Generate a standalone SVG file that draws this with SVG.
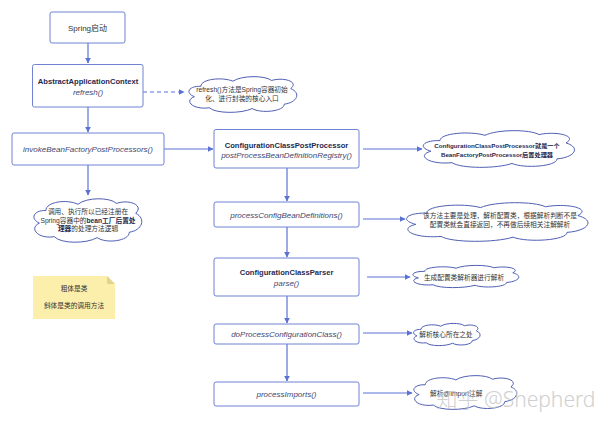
<svg xmlns="http://www.w3.org/2000/svg" xmlns:xlink="http://www.w3.org/1999/xlink" width="600" height="425" viewBox="0 0 600 425">
<style>
text{font-family:"Liberation Sans","Noto Sans CJK SC",sans-serif;text-anchor:middle;fill:#333}
.box{fill:#fff;stroke:#6f82d4;stroke-width:1}
.b{font-weight:bold;font-size:7.6px;fill:#1f2a4f}
.i{font-style:italic;font-size:8px;fill:#3f4670}
.n{font-size:8px}
.c{font-size:6.7px}
.cb{font-size:6.2px;font-weight:bold;fill:#1f2a4f}
.cl{fill:#fff;stroke:#4f5fb4;stroke-width:1}
.ln{stroke:#5a72d4;stroke-width:1.2;fill:none}
.ds{stroke-dasharray:4 3}
</style>
<defs>
<marker id="ah" viewBox="0 0 10 10" refX="9" refY="5" markerWidth="6" markerHeight="6" orient="auto" markerUnits="userSpaceOnUse">
<path d="M0,0 L10,5 L0,10 Z" fill="#5a72d4"/>
</marker>
<path id="cloud" d="M12,28 C12,8 32,2 42,14 C50,-2 72,-2 78,12 C90,2 104,16 96,34 C106,46 102,72 90,76 C90,96 68,102 60,88 C50,102 26,102 20,86 C4,92 -4,66 6,56 C-4,44 2,26 12,28 Z" vector-effect="non-scaling-stroke"/>
</defs>
<rect width="600" height="425" fill="#fff"/>

<g id="connectors">
<path class="ln" d="M88,43 V63" marker-end="url(#ah)"/>
<path class="ln ds" d="M108,92 H184" marker-end="url(#ah)"/>
<path class="ln" d="M88,107 V132" marker-end="url(#ah)"/>
<path class="ln" d="M164,149 H213" marker-end="url(#ah)"/>
<path class="ln" d="M88,165 V195" marker-end="url(#ah)"/>
<path class="ln" d="M363,149 H422" marker-end="url(#ah)"/>
<path class="ln" d="M287,168 V201" marker-end="url(#ah)"/>
<path class="ln" d="M363,219 H405" marker-end="url(#ah)"/>
<path class="ln" d="M287,227 V257" marker-end="url(#ah)"/>
<path class="ln" d="M367,277 H410" marker-end="url(#ah)"/>
<path class="ln" d="M287,296 V323" marker-end="url(#ah)"/>
<path class="ln" d="M363,333 H412" marker-end="url(#ah)"/>
<path class="ln" d="M287,344 V381" marker-end="url(#ah)"/>
<path class="ln" d="M363,393 H412" marker-end="url(#ah)"/>
</g>

<g id="spring-start">
<rect class="box" x="50" y="12" width="75" height="31" rx="2"/>
<text class="n" x="87.5" y="30.5">Spring启动</text>
</g>
<g id="abstract-app-context">
<rect class="box" x="32.5" y="64.5" width="110.5" height="42.5" rx="2"/>
<text class="b" x="88" y="84">AbstractApplicationContext</text>
<text class="i" x="88" y="95">refresh()</text>
</g>
<g id="cloud-refresh">
<use href="#cloud" class="cl" transform="translate(188,76) scale(1.07,0.37)"/>
<text class="c" x="242" y="92" font-size="6.2">refresh()方法是Spring容器初始</text>
<text class="c" x="242" y="101" font-size="6.2">化、进行封装的核心入口</text>
</g>
<g id="invoke-bfpp">
<rect class="box" x="12" y="133" width="152" height="32" rx="2"/>
<text class="i" x="88" y="152">invokeBeanFactoryPostProcessors()</text>
</g>
<g id="cloud-invoke">
<use href="#cloud" class="cl" transform="translate(33,198) scale(1.07,0.45)"/>
<text class="c" x="88" y="214">调用、执行所以已经注册在</text>
<text class="c" x="88" y="222.5">Spring容器中的<tspan font-weight="bold" fill="#1f2a4f">bean工厂后置处</tspan></text>
<text class="c" x="88" y="231"><tspan font-weight="bold" fill="#1f2a4f">理器</tspan>的处理方法逻辑</text>
</g>
<g id="note">
<path d="M33,276 H107 L115,284 V319 H33 Z" fill="#fcefab"/>
<path d="M107,276 L115,284 H107 Z" fill="#e4d38c"/>
<text class="c" x="74" y="291" font-size="7">粗体是类</text>
<text class="c" x="74" y="308" font-size="7">斜体是类的调用方法</text>
</g>
<g id="ccpp">
<rect class="box" x="214" y="129.5" width="145" height="38.5" rx="2"/>
<text class="b" x="286.5" y="148">ConfigurationClassPostProcessor</text>
<text class="i" x="286.5" y="157.5">postProcessBeanDefinitionRegistry()</text>
</g>
<g id="cloud-ccpp">
<use href="#cloud" class="cl" transform="translate(422,130) scale(1.5,0.38)"/>
<text class="cb" x="497" y="147.5">ConfigurationClassPostProcessor就是一个</text>
<text class="cb" x="497" y="156.5">BeanFactoryPostProcessor后置处理器</text>
</g>
<g id="process-config">
<rect class="box" x="214" y="202" width="145" height="25" rx="2"/>
<text class="i" x="286.5" y="217.5">processConfigBeanDefinitions()</text>
</g>
<g id="cloud-process-config">
<use href="#cloud" class="cl" transform="translate(405,202) scale(1.8,0.4)"/>
<text class="c" x="500" y="218">该方法主要是处理，解析配置类，根据解析判断不是</text>
<text class="c" x="500" y="227">配置类就会直接返回，不再做后续相关注解解析</text>
</g>
<g id="ccparser">
<rect class="box" x="214" y="258" width="145" height="38" rx="2"/>
<text class="b" x="286.5" y="275">ConfigurationClassParser</text>
<text class="i" x="286.5" y="286">parse()</text>
</g>
<g id="cloud-parse">
<use href="#cloud" class="cl" transform="translate(412,265) scale(1.05,0.23)"/>
<text class="c" x="464" y="279.5">生成配置类解析器进行解析</text>
</g>
<g id="do-process">
<rect class="box" x="214" y="324" width="145" height="20" rx="2"/>
<text class="i" x="286.5" y="337">doProcessConfigurationClass()</text>
</g>
<g id="cloud-do-process">
<use href="#cloud" class="cl" transform="translate(413,323) scale(0.66,0.23)"/>
<text class="c" x="446" y="337">解析核心所在之处</text>
</g>
<g id="process-imports">
<rect class="box" x="214" y="382" width="145" height="24" rx="2"/>
<text class="i" x="286.5" y="397">processImports()</text>
</g>
<g id="cloud-imports">
<use href="#cloud" class="cl" transform="translate(413,375) scale(1.02,0.35)"/>
<text class="c" x="430" y="395.5" style="text-anchor:start">解析@Import注解</text>
</g>
<text x="516" y="407" font-size="21" style="fill:#c8c8c8;opacity:0.85;font-family:'Noto Sans','Noto Sans CJK SC',sans-serif;font-weight:300">知乎 @Shepherd</text>
</svg>
